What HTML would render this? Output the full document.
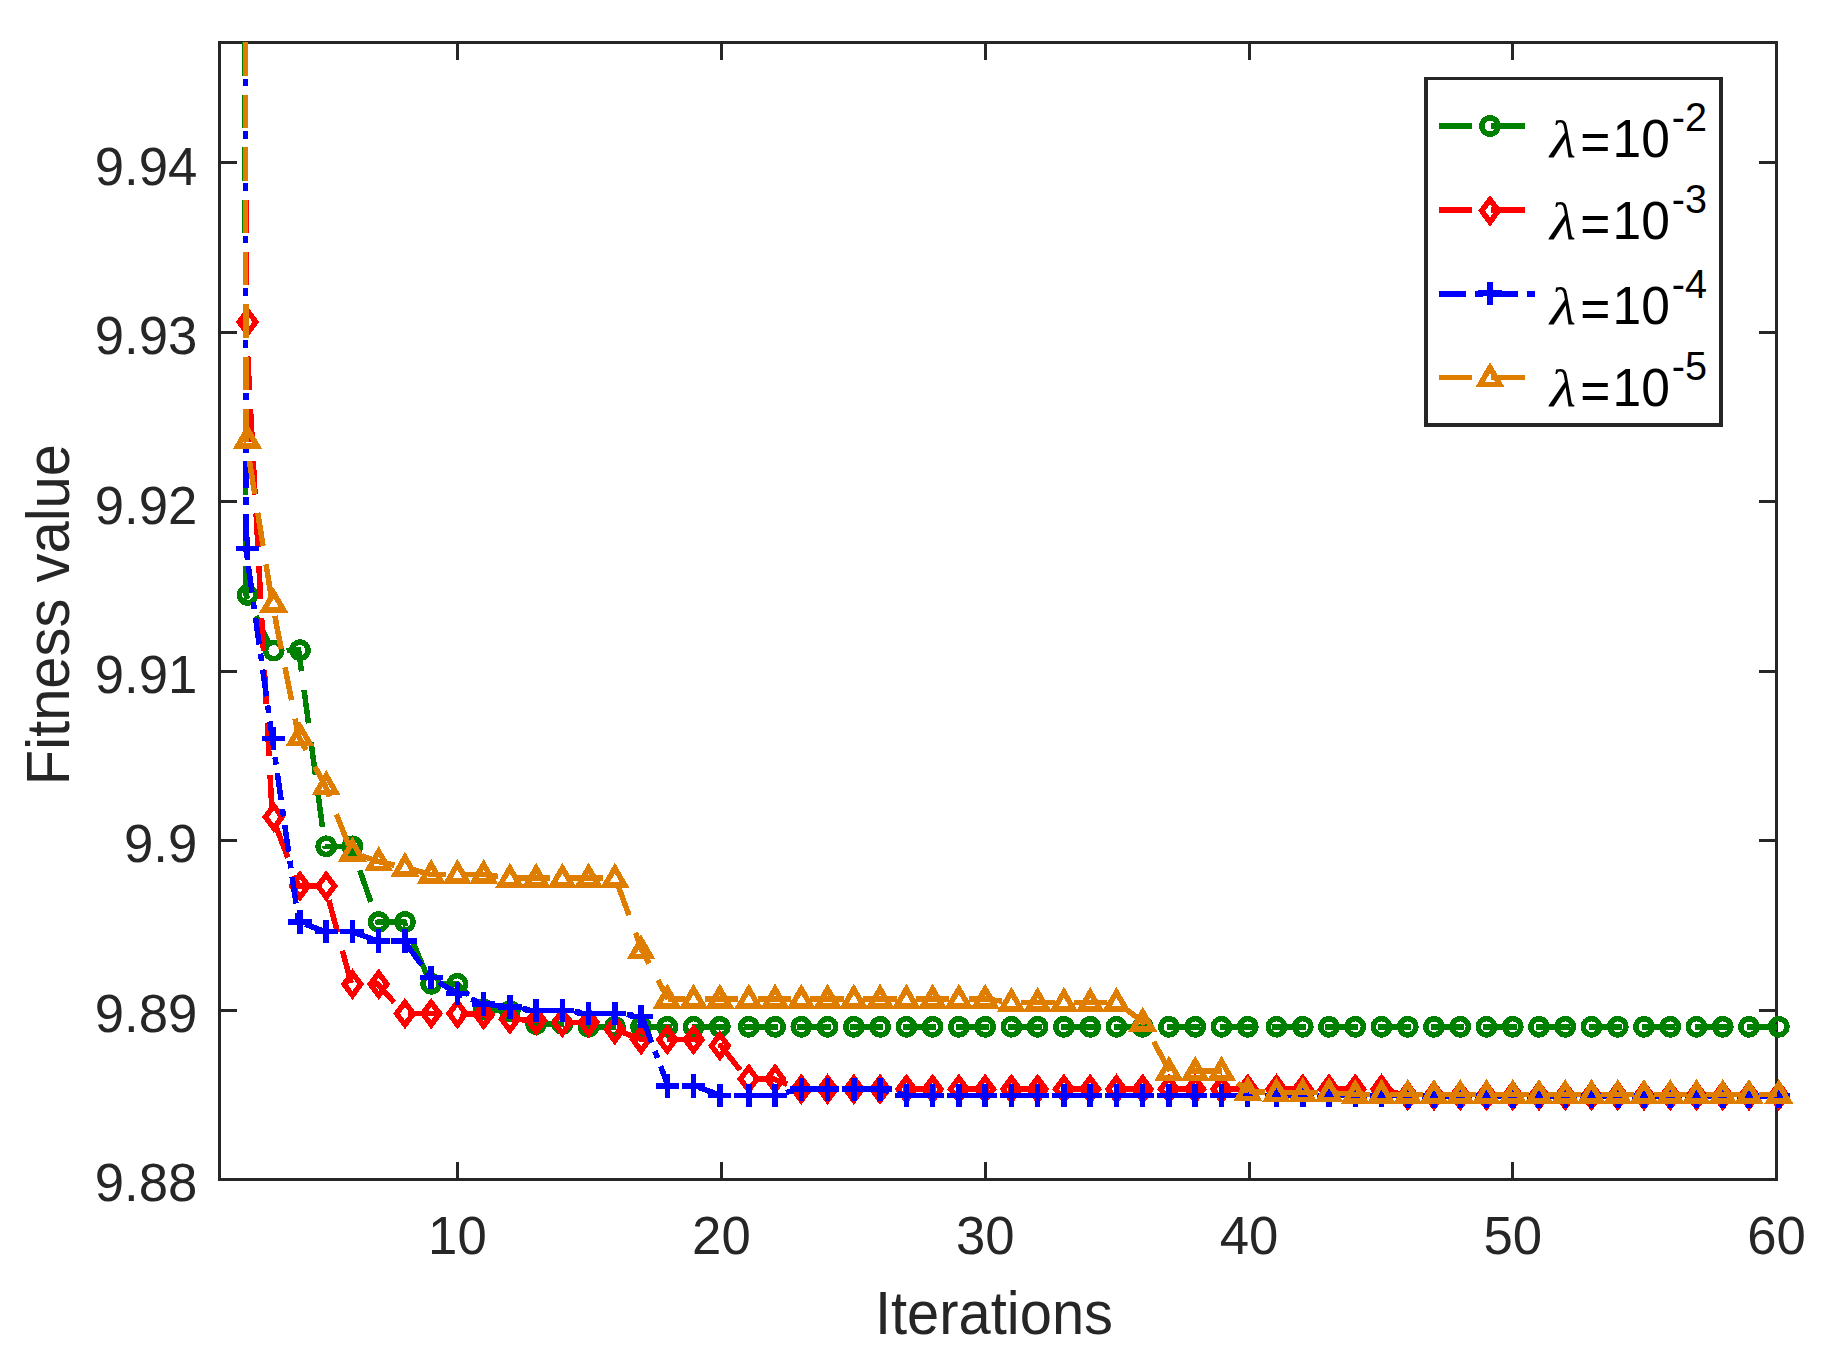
<!DOCTYPE html>
<html lang="en">
<head>
<meta charset="utf-8">
<title>Fitness value vs Iterations</title>
<style>
html,body{margin:0;padding:0;background:#fff;}
body{width:1825px;height:1363px;overflow:hidden;}
svg{display:block;}
text{font-family:"Liberation Sans",Arial,Helvetica,sans-serif;fill:#262626;}
.tk{font-size:52.7px;}
.lb{font-size:57.9px;}
.lg{font-size:51.5px;fill:#000;}
.lam{font-family:"Liberation Serif","DejaVu Serif",serif;font-style:italic;font-size:51.5px;}
.sup{font-size:39.6px;}
.ser *{fill:none;stroke-width:5.5;stroke-linejoin:miter;stroke-miterlimit:10;}
</style>
</head>
<body>
<svg width="1825" height="1363" viewBox="0 0 1825 1363">
<rect x="0" y="0" width="1825" height="1363" fill="#ffffff"/>

<g stroke="#262626" stroke-width="3.0" fill="none" shape-rendering="crispEdges">
<rect x="219.5" y="42.5" width="1557" height="1137"/>
<path d="M457.4 1179.5v-17.7M457.4 42.5v17.7M721.4 1179.5v-17.7M721.4 42.5v17.7M985.2 1179.5v-17.7M985.2 42.5v17.7M1249 1179.5v-17.7M1249 42.5v17.7M1512.8 1179.5v-17.7M1512.8 42.5v17.7M219.5 1010.08h17.7M1776.5 1010.08h-17.7M219.5 840.66h17.7M1776.5 840.66h-17.7M219.5 671.24h17.7M1776.5 671.24h-17.7M219.5 501.82h17.7M1776.5 501.82h-17.7M219.5 332.4h17.7M1776.5 332.4h-17.7M219.5 162.98h17.7M1776.5 162.98h-17.7"/>
</g>
<g class="tk">
<text transform="translate(457.4 1254.4) scale(1 1.03)" text-anchor="middle">10</text>
<text transform="translate(721.4 1254.4) scale(1 1.03)" text-anchor="middle">20</text>
<text transform="translate(985.2 1254.4) scale(1 1.03)" text-anchor="middle">30</text>
<text transform="translate(1249 1254.4) scale(1 1.03)" text-anchor="middle">40</text>
<text transform="translate(1512.8 1254.4) scale(1 1.03)" text-anchor="middle">50</text>
<text transform="translate(1776.6 1254.4) scale(1 1.03)" text-anchor="middle">60</text>
<text transform="translate(197.3 1201.2) scale(1 1.03)" text-anchor="end">9.88</text>
<text transform="translate(197.3 1031.78) scale(1 1.03)" text-anchor="end">9.89</text>
<text transform="translate(197.3 862.36) scale(1 1.03)" text-anchor="end">9.9</text>
<text transform="translate(197.3 692.94) scale(1 1.03)" text-anchor="end">9.91</text>
<text transform="translate(197.3 523.52) scale(1 1.03)" text-anchor="end">9.92</text>
<text transform="translate(197.3 354.1) scale(1 1.03)" text-anchor="end">9.93</text>
<text transform="translate(197.3 184.68) scale(1 1.03)" text-anchor="end">9.94</text>
</g>
<text class="lb" transform="translate(994 1333.7) scale(1 1.045)" text-anchor="middle">Iterations</text>
<text class="lb" transform="translate(69.3 614.6) rotate(-90) scale(1 1.045)" text-anchor="middle">Fitness value</text>
<g class="ser" shape-rendering="crispEdges">
<polyline points="244.9,42.5 245.89,595 272.28,650.5 298.67,650.2 325.06,846.3 351.45,846.3 377.84,922 404.23,922 430.62,983.8 457.01,983.8 483.4,1009.5 509.79,1011 536.18,1024 562.57,1024 588.96,1026.8 615.35,1026.8 641.74,1026.8 668.13,1026.8" stroke="#008000" stroke-dasharray="33.5 18.85"/>
<polyline points="668.13,1026.8 694.52,1026.8 720.91,1026.8 747.3,1026.8 773.69,1026.8 800.08,1026.8 826.47,1026.8 852.86,1026.8 879.25,1026.8 905.64,1026.8 932.03,1026.8 958.42,1026.8 984.81,1026.8 1011.19,1026.8 1037.58,1026.8 1063.97,1026.8 1090.36,1026.8 1116.75,1026.8 1143.14,1026.8 1169.53,1026.8 1195.92,1026.8 1222.31,1026.8 1248.7,1026.8 1275.09,1026.8 1301.48,1026.8 1327.87,1026.8 1354.26,1026.8 1380.65,1026.8 1407.04,1026.8 1433.43,1026.8 1459.82,1026.8 1486.21,1026.8 1512.6,1026.8 1538.99,1026.8 1565.38,1026.8 1591.77,1026.8 1618.16,1026.8 1644.55,1026.8 1670.94,1026.8 1697.33,1026.8 1723.72,1026.8 1750.11,1026.8 1776.5,1026.8" stroke="#008000" stroke-dasharray="33.4 19.38" stroke-dashoffset="29.2"/>
<circle cx="247.5" cy="595" r="8.1" stroke="#008000"/>
<circle cx="273.74" cy="650.5" r="8.1" stroke="#008000"/>
<circle cx="299.98" cy="650.2" r="8.1" stroke="#008000"/>
<circle cx="326.22" cy="846.3" r="8.1" stroke="#008000"/>
<circle cx="352.46" cy="846.3" r="8.1" stroke="#008000"/>
<circle cx="378.7" cy="922" r="8.1" stroke="#008000"/>
<circle cx="404.94" cy="922" r="8.1" stroke="#008000"/>
<circle cx="431.18" cy="983.8" r="8.1" stroke="#008000"/>
<circle cx="457.42" cy="983.8" r="8.1" stroke="#008000"/>
<circle cx="483.66" cy="1009.5" r="8.1" stroke="#008000"/>
<circle cx="509.9" cy="1011" r="8.1" stroke="#008000"/>
<circle cx="536.14" cy="1024" r="8.1" stroke="#008000"/>
<circle cx="562.38" cy="1024" r="8.1" stroke="#008000"/>
<circle cx="588.62" cy="1026.8" r="8.1" stroke="#008000"/>
<circle cx="614.86" cy="1026.8" r="8.1" stroke="#008000"/>
<circle cx="641.1" cy="1026.8" r="8.1" stroke="#008000"/>
<circle cx="667.34" cy="1026.8" r="8.1" stroke="#008000"/>
<circle cx="693.58" cy="1026.8" r="8.1" stroke="#008000"/>
<circle cx="719.82" cy="1026.8" r="8.1" stroke="#008000"/>
<circle cx="748.8" cy="1026.8" r="8.1" stroke="#008000"/>
<circle cx="775.06" cy="1026.8" r="8.1" stroke="#008000"/>
<circle cx="801.32" cy="1026.8" r="8.1" stroke="#008000"/>
<circle cx="827.58" cy="1026.8" r="8.1" stroke="#008000"/>
<circle cx="853.84" cy="1026.8" r="8.1" stroke="#008000"/>
<circle cx="880.1" cy="1026.8" r="8.1" stroke="#008000"/>
<circle cx="906.36" cy="1026.8" r="8.1" stroke="#008000"/>
<circle cx="932.62" cy="1026.8" r="8.1" stroke="#008000"/>
<circle cx="958.88" cy="1026.8" r="8.1" stroke="#008000"/>
<circle cx="985.14" cy="1026.8" r="8.1" stroke="#008000"/>
<circle cx="1011.4" cy="1026.8" r="8.1" stroke="#008000"/>
<circle cx="1037.66" cy="1026.8" r="8.1" stroke="#008000"/>
<circle cx="1063.92" cy="1026.8" r="8.1" stroke="#008000"/>
<circle cx="1090.18" cy="1026.8" r="8.1" stroke="#008000"/>
<circle cx="1116.44" cy="1026.8" r="8.1" stroke="#008000"/>
<circle cx="1142.7" cy="1026.8" r="8.1" stroke="#008000"/>
<circle cx="1168.96" cy="1026.8" r="8.1" stroke="#008000"/>
<circle cx="1195.22" cy="1026.8" r="8.1" stroke="#008000"/>
<circle cx="1221.48" cy="1026.8" r="8.1" stroke="#008000"/>
<circle cx="1247.74" cy="1026.8" r="8.1" stroke="#008000"/>
<circle cx="1276.5" cy="1026.8" r="8.1" stroke="#008000"/>
<circle cx="1302.75" cy="1026.8" r="8.1" stroke="#008000"/>
<circle cx="1329" cy="1026.8" r="8.1" stroke="#008000"/>
<circle cx="1355.25" cy="1026.8" r="8.1" stroke="#008000"/>
<circle cx="1381.5" cy="1026.8" r="8.1" stroke="#008000"/>
<circle cx="1407.75" cy="1026.8" r="8.1" stroke="#008000"/>
<circle cx="1434" cy="1026.8" r="8.1" stroke="#008000"/>
<circle cx="1460.25" cy="1026.8" r="8.1" stroke="#008000"/>
<circle cx="1486.5" cy="1026.8" r="8.1" stroke="#008000"/>
<circle cx="1512.75" cy="1026.8" r="8.1" stroke="#008000"/>
<circle cx="1539" cy="1026.8" r="8.1" stroke="#008000"/>
<circle cx="1565.25" cy="1026.8" r="8.1" stroke="#008000"/>
<circle cx="1591.5" cy="1026.8" r="8.1" stroke="#008000"/>
<circle cx="1617.75" cy="1026.8" r="8.1" stroke="#008000"/>
<circle cx="1644" cy="1026.8" r="8.1" stroke="#008000"/>
<circle cx="1670.25" cy="1026.8" r="8.1" stroke="#008000"/>
<circle cx="1696.5" cy="1026.8" r="8.1" stroke="#008000"/>
<circle cx="1722.75" cy="1026.8" r="8.1" stroke="#008000"/>
<circle cx="1749" cy="1026.8" r="8.1" stroke="#008000"/>
<circle cx="1778.8" cy="1026.8" r="8.1" stroke="#008000"/>
<polyline points="245.6,42.5 245.89,322 272.28,817 298.67,886 325.06,886 351.45,984.2 377.84,984.2 404.23,1013.6 430.62,1013.6 457.01,1013.6 483.4,1014.6 509.79,1019.2 536.18,1020.4 562.57,1022.4 588.96,1022.4 615.35,1029.6 641.74,1039.6 668.13,1039.6 694.52,1039.6 720.91,1045.8 747.3,1079 773.69,1079 800.08,1089.2" stroke="#ff0000" stroke-dasharray="33.5 18.85"/>
<polyline points="800.08,1089.2 826.47,1089.2 852.86,1089.2 879.25,1089.2 905.64,1089.2 932.03,1089.2 958.42,1089.2 984.81,1089.2 1011.19,1089.2 1037.58,1089.2 1063.97,1089.2 1090.36,1089.2 1116.75,1089.2 1143.14,1089.2 1169.53,1089.2 1195.92,1089.2 1222.31,1089.2 1248.7,1089.2 1275.09,1089.2 1301.48,1089.2 1327.87,1089.2 1354.26,1089.2 1380.65,1089.2 1407.04,1095.6 1433.43,1095.6 1459.82,1095.6 1486.21,1095.6 1512.6,1095.6 1538.99,1095.6 1565.38,1095.6 1591.77,1095.6 1618.16,1095.6 1644.55,1095.6 1670.94,1095.6 1697.33,1095.6 1723.72,1095.6 1750.11,1095.6 1776.5,1095.6" stroke="#ff0000" stroke-dasharray="33.4 19.38" stroke-dashoffset="2.8"/>
<path d="M247.5 310.8L255.8 322L247.5 333.2L239.2 322Z" stroke="#ff0000"/>
<path d="M273.74 805.8L282.04 817L273.74 828.2L265.44 817Z" stroke="#ff0000"/>
<path d="M299.98 874.8L308.28 886L299.98 897.2L291.68 886Z" stroke="#ff0000"/>
<path d="M326.22 874.8L334.52 886L326.22 897.2L317.92 886Z" stroke="#ff0000"/>
<path d="M352.46 973L360.76 984.2L352.46 995.4L344.16 984.2Z" stroke="#ff0000"/>
<path d="M378.7 973L387 984.2L378.7 995.4L370.4 984.2Z" stroke="#ff0000"/>
<path d="M404.94 1002.4L413.24 1013.6L404.94 1024.8L396.64 1013.6Z" stroke="#ff0000"/>
<path d="M431.18 1002.4L439.48 1013.6L431.18 1024.8L422.88 1013.6Z" stroke="#ff0000"/>
<path d="M457.42 1002.4L465.72 1013.6L457.42 1024.8L449.12 1013.6Z" stroke="#ff0000"/>
<path d="M483.66 1003.4L491.96 1014.6L483.66 1025.8L475.36 1014.6Z" stroke="#ff0000"/>
<path d="M509.9 1008L518.2 1019.2L509.9 1030.4L501.6 1019.2Z" stroke="#ff0000"/>
<path d="M536.14 1009.2L544.44 1020.4L536.14 1031.6L527.84 1020.4Z" stroke="#ff0000"/>
<path d="M562.38 1011.2L570.68 1022.4L562.38 1033.6L554.08 1022.4Z" stroke="#ff0000"/>
<path d="M588.62 1011.2L596.92 1022.4L588.62 1033.6L580.32 1022.4Z" stroke="#ff0000"/>
<path d="M614.86 1018.4L623.16 1029.6L614.86 1040.8L606.56 1029.6Z" stroke="#ff0000"/>
<path d="M641.1 1028.4L649.4 1039.6L641.1 1050.8L632.8 1039.6Z" stroke="#ff0000"/>
<path d="M667.34 1028.4L675.64 1039.6L667.34 1050.8L659.04 1039.6Z" stroke="#ff0000"/>
<path d="M693.58 1028.4L701.88 1039.6L693.58 1050.8L685.28 1039.6Z" stroke="#ff0000"/>
<path d="M719.82 1034.6L728.12 1045.8L719.82 1057L711.52 1045.8Z" stroke="#ff0000"/>
<path d="M748.8 1067.8L757.1 1079L748.8 1090.2L740.5 1079Z" stroke="#ff0000"/>
<path d="M775.06 1067.8L783.36 1079L775.06 1090.2L766.76 1079Z" stroke="#ff0000"/>
<path d="M801.32 1078L809.62 1089.2L801.32 1100.4L793.02 1089.2Z" stroke="#ff0000"/>
<path d="M827.58 1078L835.88 1089.2L827.58 1100.4L819.28 1089.2Z" stroke="#ff0000"/>
<path d="M853.84 1078L862.14 1089.2L853.84 1100.4L845.54 1089.2Z" stroke="#ff0000"/>
<path d="M880.1 1078L888.4 1089.2L880.1 1100.4L871.8 1089.2Z" stroke="#ff0000"/>
<path d="M906.36 1078L914.66 1089.2L906.36 1100.4L898.06 1089.2Z" stroke="#ff0000"/>
<path d="M932.62 1078L940.92 1089.2L932.62 1100.4L924.32 1089.2Z" stroke="#ff0000"/>
<path d="M958.88 1078L967.18 1089.2L958.88 1100.4L950.58 1089.2Z" stroke="#ff0000"/>
<path d="M985.14 1078L993.44 1089.2L985.14 1100.4L976.84 1089.2Z" stroke="#ff0000"/>
<path d="M1011.4 1078L1019.7 1089.2L1011.4 1100.4L1003.1 1089.2Z" stroke="#ff0000"/>
<path d="M1037.66 1078L1045.96 1089.2L1037.66 1100.4L1029.36 1089.2Z" stroke="#ff0000"/>
<path d="M1063.92 1078L1072.22 1089.2L1063.92 1100.4L1055.62 1089.2Z" stroke="#ff0000"/>
<path d="M1090.18 1078L1098.48 1089.2L1090.18 1100.4L1081.88 1089.2Z" stroke="#ff0000"/>
<path d="M1116.44 1078L1124.74 1089.2L1116.44 1100.4L1108.14 1089.2Z" stroke="#ff0000"/>
<path d="M1142.7 1078L1151 1089.2L1142.7 1100.4L1134.4 1089.2Z" stroke="#ff0000"/>
<path d="M1168.96 1078L1177.26 1089.2L1168.96 1100.4L1160.66 1089.2Z" stroke="#ff0000"/>
<path d="M1195.22 1078L1203.52 1089.2L1195.22 1100.4L1186.92 1089.2Z" stroke="#ff0000"/>
<path d="M1221.48 1078L1229.78 1089.2L1221.48 1100.4L1213.18 1089.2Z" stroke="#ff0000"/>
<path d="M1247.74 1078L1256.04 1089.2L1247.74 1100.4L1239.44 1089.2Z" stroke="#ff0000"/>
<path d="M1276.5 1078L1284.8 1089.2L1276.5 1100.4L1268.2 1089.2Z" stroke="#ff0000"/>
<path d="M1302.75 1078L1311.05 1089.2L1302.75 1100.4L1294.45 1089.2Z" stroke="#ff0000"/>
<path d="M1329 1078L1337.3 1089.2L1329 1100.4L1320.7 1089.2Z" stroke="#ff0000"/>
<path d="M1355.25 1078L1363.55 1089.2L1355.25 1100.4L1346.95 1089.2Z" stroke="#ff0000"/>
<path d="M1381.5 1078L1389.8 1089.2L1381.5 1100.4L1373.2 1089.2Z" stroke="#ff0000"/>
<path d="M1407.75 1084.4L1416.05 1095.6L1407.75 1106.8L1399.45 1095.6Z" stroke="#ff0000"/>
<path d="M1434 1084.4L1442.3 1095.6L1434 1106.8L1425.7 1095.6Z" stroke="#ff0000"/>
<path d="M1460.25 1084.4L1468.55 1095.6L1460.25 1106.8L1451.95 1095.6Z" stroke="#ff0000"/>
<path d="M1486.5 1084.4L1494.8 1095.6L1486.5 1106.8L1478.2 1095.6Z" stroke="#ff0000"/>
<path d="M1512.75 1084.4L1521.05 1095.6L1512.75 1106.8L1504.45 1095.6Z" stroke="#ff0000"/>
<path d="M1539 1084.4L1547.3 1095.6L1539 1106.8L1530.7 1095.6Z" stroke="#ff0000"/>
<path d="M1565.25 1084.4L1573.55 1095.6L1565.25 1106.8L1556.95 1095.6Z" stroke="#ff0000"/>
<path d="M1591.5 1084.4L1599.8 1095.6L1591.5 1106.8L1583.2 1095.6Z" stroke="#ff0000"/>
<path d="M1617.75 1084.4L1626.05 1095.6L1617.75 1106.8L1609.45 1095.6Z" stroke="#ff0000"/>
<path d="M1644 1084.4L1652.3 1095.6L1644 1106.8L1635.7 1095.6Z" stroke="#ff0000"/>
<path d="M1670.25 1084.4L1678.55 1095.6L1670.25 1106.8L1661.95 1095.6Z" stroke="#ff0000"/>
<path d="M1696.5 1084.4L1704.8 1095.6L1696.5 1106.8L1688.2 1095.6Z" stroke="#ff0000"/>
<path d="M1722.75 1084.4L1731.05 1095.6L1722.75 1106.8L1714.45 1095.6Z" stroke="#ff0000"/>
<path d="M1749 1084.4L1757.3 1095.6L1749 1106.8L1740.7 1095.6Z" stroke="#ff0000"/>
<path d="M1778.8 1084.4L1787.1 1095.6L1778.8 1106.8L1770.5 1095.6Z" stroke="#ff0000"/>
<polyline points="245.5,42.5 245.89,548.6 272.28,738.3 298.67,922 325.06,931.5 351.45,931.5 377.84,941 404.23,941 430.62,977.5 457.01,993.4 483.4,1003.9 509.79,1007 536.18,1010.4 562.57,1010.4 588.96,1013.3 615.35,1013.3 641.74,1016.3 668.13,1086 694.52,1086 720.91,1095.4 747.3,1095.4 773.69,1095.4 800.08,1089.2" stroke="#0000ff" stroke-dasharray="27 9.2 7.5 8.65"/>
<polyline points="800.08,1089.2 826.47,1089.2 852.86,1089.2 879.25,1089.2 905.64,1095.3 932.03,1095.3 958.42,1095.3 984.81,1095.3 1011.19,1095.3 1037.58,1095.3 1063.97,1095.3 1090.36,1095.3 1116.75,1095.3 1143.14,1095.3 1169.53,1095.3 1195.92,1095.3 1222.31,1095.3 1248.7,1095.3 1275.09,1095.3 1301.48,1095.3 1327.87,1095.3 1354.26,1095.3 1380.65,1095.3 1407.04,1096 1433.43,1096 1459.82,1096 1486.21,1096 1512.6,1096 1538.99,1096 1565.38,1096 1591.77,1096 1618.16,1096 1644.55,1096 1670.94,1096 1697.33,1096 1723.72,1096 1750.11,1096 1776.5,1096" stroke="#0000ff" stroke-dasharray="27 9.4 7.5 8.88" stroke-dashoffset="43.6"/>
<path d="M235.9 548.6H259.1M247.5 537V560.2" stroke="#0000ff"/>
<path d="M262.14 738.3H285.34M273.74 726.7V749.9" stroke="#0000ff"/>
<path d="M288.38 922H311.58M299.98 910.4V933.6" stroke="#0000ff"/>
<path d="M314.62 931.5H337.82M326.22 919.9V943.1" stroke="#0000ff"/>
<path d="M340.86 931.5H364.06M352.46 919.9V943.1" stroke="#0000ff"/>
<path d="M367.1 941H390.3M378.7 929.4V952.6" stroke="#0000ff"/>
<path d="M393.34 941H416.54M404.94 929.4V952.6" stroke="#0000ff"/>
<path d="M419.58 977.5H442.78M431.18 965.9V989.1" stroke="#0000ff"/>
<path d="M445.82 993.4H469.02M457.42 981.8V1005" stroke="#0000ff"/>
<path d="M472.06 1003.9H495.26M483.66 992.3V1015.5" stroke="#0000ff"/>
<path d="M498.3 1007H521.5M509.9 995.4V1018.6" stroke="#0000ff"/>
<path d="M524.54 1010.4H547.74M536.14 998.8V1022" stroke="#0000ff"/>
<path d="M550.78 1010.4H573.98M562.38 998.8V1022" stroke="#0000ff"/>
<path d="M577.02 1013.3H600.22M588.62 1001.7V1024.9" stroke="#0000ff"/>
<path d="M603.26 1013.3H626.46M614.86 1001.7V1024.9" stroke="#0000ff"/>
<path d="M629.5 1016.3H652.7M641.1 1004.7V1027.9" stroke="#0000ff"/>
<path d="M655.74 1086H678.94M667.34 1074.4V1097.6" stroke="#0000ff"/>
<path d="M681.98 1086H705.18M693.58 1074.4V1097.6" stroke="#0000ff"/>
<path d="M708.22 1095.4H731.42M719.82 1083.8V1107" stroke="#0000ff"/>
<path d="M737.2 1095.4H760.4M748.8 1083.8V1107" stroke="#0000ff"/>
<path d="M763.46 1095.4H786.66M775.06 1083.8V1107" stroke="#0000ff"/>
<path d="M789.72 1089.2H812.92M801.32 1077.6V1100.8" stroke="#0000ff"/>
<path d="M815.98 1089.2H839.18M827.58 1077.6V1100.8" stroke="#0000ff"/>
<path d="M842.24 1089.2H865.44M853.84 1077.6V1100.8" stroke="#0000ff"/>
<path d="M868.5 1089.2H891.7M880.1 1077.6V1100.8" stroke="#0000ff"/>
<path d="M894.76 1095.3H917.96M906.36 1083.7V1106.9" stroke="#0000ff"/>
<path d="M921.02 1095.3H944.22M932.62 1083.7V1106.9" stroke="#0000ff"/>
<path d="M947.28 1095.3H970.48M958.88 1083.7V1106.9" stroke="#0000ff"/>
<path d="M973.54 1095.3H996.74M985.14 1083.7V1106.9" stroke="#0000ff"/>
<path d="M999.8 1095.3H1023M1011.4 1083.7V1106.9" stroke="#0000ff"/>
<path d="M1026.06 1095.3H1049.26M1037.66 1083.7V1106.9" stroke="#0000ff"/>
<path d="M1052.32 1095.3H1075.52M1063.92 1083.7V1106.9" stroke="#0000ff"/>
<path d="M1078.58 1095.3H1101.78M1090.18 1083.7V1106.9" stroke="#0000ff"/>
<path d="M1104.84 1095.3H1128.04M1116.44 1083.7V1106.9" stroke="#0000ff"/>
<path d="M1131.1 1095.3H1154.3M1142.7 1083.7V1106.9" stroke="#0000ff"/>
<path d="M1157.36 1095.3H1180.56M1168.96 1083.7V1106.9" stroke="#0000ff"/>
<path d="M1183.62 1095.3H1206.82M1195.22 1083.7V1106.9" stroke="#0000ff"/>
<path d="M1209.88 1095.3H1233.08M1221.48 1083.7V1106.9" stroke="#0000ff"/>
<path d="M1236.14 1095.3H1259.34M1247.74 1083.7V1106.9" stroke="#0000ff"/>
<path d="M1264.9 1095.3H1288.1M1276.5 1083.7V1106.9" stroke="#0000ff"/>
<path d="M1291.15 1095.3H1314.35M1302.75 1083.7V1106.9" stroke="#0000ff"/>
<path d="M1317.4 1095.3H1340.6M1329 1083.7V1106.9" stroke="#0000ff"/>
<path d="M1343.65 1095.3H1366.85M1355.25 1083.7V1106.9" stroke="#0000ff"/>
<path d="M1369.9 1095.3H1393.1M1381.5 1083.7V1106.9" stroke="#0000ff"/>
<path d="M1396.15 1096H1419.35M1407.75 1084.4V1107.6" stroke="#0000ff"/>
<path d="M1422.4 1096H1445.6M1434 1084.4V1107.6" stroke="#0000ff"/>
<path d="M1448.65 1096H1471.85M1460.25 1084.4V1107.6" stroke="#0000ff"/>
<path d="M1474.9 1096H1498.1M1486.5 1084.4V1107.6" stroke="#0000ff"/>
<path d="M1501.15 1096H1524.35M1512.75 1084.4V1107.6" stroke="#0000ff"/>
<path d="M1527.4 1096H1550.6M1539 1084.4V1107.6" stroke="#0000ff"/>
<path d="M1553.65 1096H1576.85M1565.25 1084.4V1107.6" stroke="#0000ff"/>
<path d="M1579.9 1096H1603.1M1591.5 1084.4V1107.6" stroke="#0000ff"/>
<path d="M1606.15 1096H1629.35M1617.75 1084.4V1107.6" stroke="#0000ff"/>
<path d="M1632.4 1096H1655.6M1644 1084.4V1107.6" stroke="#0000ff"/>
<path d="M1658.65 1096H1681.85M1670.25 1084.4V1107.6" stroke="#0000ff"/>
<path d="M1684.9 1096H1708.1M1696.5 1084.4V1107.6" stroke="#0000ff"/>
<path d="M1711.15 1096H1734.35M1722.75 1084.4V1107.6" stroke="#0000ff"/>
<path d="M1737.4 1096H1760.6M1749 1084.4V1107.6" stroke="#0000ff"/>
<path d="M1767.2 1096H1790.4M1778.8 1084.4V1107.6" stroke="#0000ff"/>
<polyline points="245.5,42.5 245.89,439.2 272.28,603.1 298.67,736.5 325.06,785.5 351.45,852.1 377.84,861.5 404.23,867.3 430.62,874.4 457.01,874.4 483.4,874.4 509.79,878.1 536.18,878.1 562.57,878.1 588.96,878.1 615.35,878.1 641.74,949.9 668.13,999" stroke="#de7d00" stroke-dasharray="33.5 18.85"/>
<polyline points="668.13,999 694.52,999 720.91,999 747.3,999 773.69,999 800.08,999 826.47,999 852.86,999 879.25,999 905.64,999 932.03,999 958.42,999 984.81,999 1011.19,1002.3 1037.58,1002.3 1063.97,1002.3 1090.36,1002.3 1116.75,1002.3 1143.14,1022.1" stroke="#de7d00" stroke-dasharray="33.4 19.38" stroke-dashoffset="16.1"/>
<polyline points="1143.14,1022.1 1169.53,1071.2 1195.92,1071.2 1222.31,1071.2 1248.7,1091.5" stroke="#de7d00" stroke-dasharray="33.4 19.38" stroke-dashoffset="30.5"/>
<polyline points="1248.7,1091.5 1275.09,1092.6 1301.48,1092.6 1327.87,1092.6 1354.26,1094.3 1380.65,1094.3 1407.04,1094.3 1433.43,1094.3 1459.82,1094.3 1486.21,1094.3 1512.6,1094.3 1538.99,1094.3 1565.38,1094.3 1591.77,1094.3 1618.16,1094.3 1644.55,1094.3 1670.94,1094.3 1697.33,1094.3 1723.72,1094.3 1750.11,1094.3 1776.5,1094.3" stroke="#de7d00" stroke-dasharray="33.4 19.38" stroke-dashoffset="17.3"/>
<path d="M247.5 429.14L257.25 446.03L237.75 446.03Z" stroke="#de7d00"/>
<path d="M273.74 593.04L283.49 609.93L263.99 609.93Z" stroke="#de7d00"/>
<path d="M299.98 726.44L309.73 743.33L290.23 743.33Z" stroke="#de7d00"/>
<path d="M326.22 775.44L335.97 792.33L316.47 792.33Z" stroke="#de7d00"/>
<path d="M352.46 842.04L362.21 858.93L342.71 858.93Z" stroke="#de7d00"/>
<path d="M378.7 851.44L388.45 868.33L368.95 868.33Z" stroke="#de7d00"/>
<path d="M404.94 857.24L414.69 874.13L395.19 874.13Z" stroke="#de7d00"/>
<path d="M431.18 864.34L440.93 881.23L421.43 881.23Z" stroke="#de7d00"/>
<path d="M457.42 864.34L467.17 881.23L447.67 881.23Z" stroke="#de7d00"/>
<path d="M483.66 864.34L493.41 881.23L473.91 881.23Z" stroke="#de7d00"/>
<path d="M509.9 868.04L519.65 884.93L500.15 884.93Z" stroke="#de7d00"/>
<path d="M536.14 868.04L545.89 884.93L526.39 884.93Z" stroke="#de7d00"/>
<path d="M562.38 868.04L572.13 884.93L552.63 884.93Z" stroke="#de7d00"/>
<path d="M588.62 868.04L598.37 884.93L578.87 884.93Z" stroke="#de7d00"/>
<path d="M614.86 868.04L624.61 884.93L605.11 884.93Z" stroke="#de7d00"/>
<path d="M641.1 939.84L650.85 956.73L631.35 956.73Z" stroke="#de7d00"/>
<path d="M667.34 988.94L677.09 1005.83L657.59 1005.83Z" stroke="#de7d00"/>
<path d="M693.58 988.94L703.33 1005.83L683.83 1005.83Z" stroke="#de7d00"/>
<path d="M719.82 988.94L729.57 1005.83L710.07 1005.83Z" stroke="#de7d00"/>
<path d="M748.8 988.94L758.55 1005.83L739.05 1005.83Z" stroke="#de7d00"/>
<path d="M775.06 988.94L784.81 1005.83L765.31 1005.83Z" stroke="#de7d00"/>
<path d="M801.32 988.94L811.07 1005.83L791.57 1005.83Z" stroke="#de7d00"/>
<path d="M827.58 988.94L837.33 1005.83L817.83 1005.83Z" stroke="#de7d00"/>
<path d="M853.84 988.94L863.59 1005.83L844.09 1005.83Z" stroke="#de7d00"/>
<path d="M880.1 988.94L889.85 1005.83L870.35 1005.83Z" stroke="#de7d00"/>
<path d="M906.36 988.94L916.11 1005.83L896.61 1005.83Z" stroke="#de7d00"/>
<path d="M932.62 988.94L942.37 1005.83L922.87 1005.83Z" stroke="#de7d00"/>
<path d="M958.88 988.94L968.63 1005.83L949.13 1005.83Z" stroke="#de7d00"/>
<path d="M985.14 988.94L994.89 1005.83L975.39 1005.83Z" stroke="#de7d00"/>
<path d="M1011.4 992.24L1021.15 1009.13L1001.65 1009.13Z" stroke="#de7d00"/>
<path d="M1037.66 992.24L1047.41 1009.13L1027.91 1009.13Z" stroke="#de7d00"/>
<path d="M1063.92 992.24L1073.67 1009.13L1054.17 1009.13Z" stroke="#de7d00"/>
<path d="M1090.18 992.24L1099.93 1009.13L1080.43 1009.13Z" stroke="#de7d00"/>
<path d="M1116.44 992.24L1126.19 1009.13L1106.69 1009.13Z" stroke="#de7d00"/>
<path d="M1142.7 1012.04L1152.45 1028.93L1132.95 1028.93Z" stroke="#de7d00"/>
<path d="M1168.96 1061.14L1178.71 1078.03L1159.21 1078.03Z" stroke="#de7d00"/>
<path d="M1195.22 1061.14L1204.97 1078.03L1185.47 1078.03Z" stroke="#de7d00"/>
<path d="M1221.48 1061.14L1231.23 1078.03L1211.73 1078.03Z" stroke="#de7d00"/>
<path d="M1247.74 1081.44L1257.49 1098.33L1237.99 1098.33Z" stroke="#de7d00"/>
<path d="M1276.5 1082.54L1286.25 1099.43L1266.75 1099.43Z" stroke="#de7d00"/>
<path d="M1302.75 1082.54L1312.5 1099.43L1293 1099.43Z" stroke="#de7d00"/>
<path d="M1329 1082.54L1338.75 1099.43L1319.25 1099.43Z" stroke="#de7d00"/>
<path d="M1355.25 1084.24L1365 1101.13L1345.5 1101.13Z" stroke="#de7d00"/>
<path d="M1381.5 1084.24L1391.25 1101.13L1371.75 1101.13Z" stroke="#de7d00"/>
<path d="M1407.75 1084.24L1417.5 1101.13L1398 1101.13Z" stroke="#de7d00"/>
<path d="M1434 1084.24L1443.75 1101.13L1424.25 1101.13Z" stroke="#de7d00"/>
<path d="M1460.25 1084.24L1470 1101.13L1450.5 1101.13Z" stroke="#de7d00"/>
<path d="M1486.5 1084.24L1496.25 1101.13L1476.75 1101.13Z" stroke="#de7d00"/>
<path d="M1512.75 1084.24L1522.5 1101.13L1503 1101.13Z" stroke="#de7d00"/>
<path d="M1539 1084.24L1548.75 1101.13L1529.25 1101.13Z" stroke="#de7d00"/>
<path d="M1565.25 1084.24L1575 1101.13L1555.5 1101.13Z" stroke="#de7d00"/>
<path d="M1591.5 1084.24L1601.25 1101.13L1581.75 1101.13Z" stroke="#de7d00"/>
<path d="M1617.75 1084.24L1627.5 1101.13L1608 1101.13Z" stroke="#de7d00"/>
<path d="M1644 1084.24L1653.75 1101.13L1634.25 1101.13Z" stroke="#de7d00"/>
<path d="M1670.25 1084.24L1680 1101.13L1660.5 1101.13Z" stroke="#de7d00"/>
<path d="M1696.5 1084.24L1706.25 1101.13L1686.75 1101.13Z" stroke="#de7d00"/>
<path d="M1722.75 1084.24L1732.5 1101.13L1713 1101.13Z" stroke="#de7d00"/>
<path d="M1749 1084.24L1758.75 1101.13L1739.25 1101.13Z" stroke="#de7d00"/>
<path d="M1778.8 1084.24L1788.55 1101.13L1769.05 1101.13Z" stroke="#de7d00"/>
</g>
<rect x="1426.0" y="78.6" width="294.8" height="346.5" fill="#fff" stroke="#262626" stroke-width="3.4" shape-rendering="crispEdges"/>
<g class="ser" shape-rendering="crispEdges">
<path d="M1438.8 126.0H1540.6" stroke="#008000" stroke-dasharray="33.5 18.85"/>
<circle cx="1490" cy="126" r="8.1" stroke="#008000"/>
<path d="M1438.8 209.9H1540.6" stroke="#ff0000" stroke-dasharray="33.5 18.85"/>
<path d="M1490 199.6L1498.3 210.8L1490 222L1481.7 210.8Z" stroke="#ff0000"/>
<path d="M1438.8 294.0H1540.6" stroke="#0000ff" stroke-dasharray="27 9.2 7.5 8.65"/>
<path d="M1478.4 293.2H1501.6M1490 281.6V304.8" stroke="#0000ff"/>
<path d="M1438.8 377.5H1540.6" stroke="#de7d00" stroke-dasharray="33.5 18.85"/>
<path d="M1490 367.44L1499.75 384.33L1480.25 384.33Z" stroke="#de7d00"/>
</g>
<text class="lg" transform="translate(0 156.8) scale(1 1.04)"><tspan class="lam" x="1550" textLength="26" lengthAdjust="spacingAndGlyphs">λ</tspan><tspan x="1580.3" dy="3.4">=</tspan><tspan x="1612.6" dy="-3.4">10</tspan><tspan class="sup" x="1671.8" dy="-24.6">-2</tspan></text>
<text class="lg" transform="translate(0 238.8) scale(1 1.04)"><tspan class="lam" x="1550" textLength="26" lengthAdjust="spacingAndGlyphs">λ</tspan><tspan x="1580.3" dy="3.4">=</tspan><tspan x="1612.6" dy="-3.4">10</tspan><tspan class="sup" x="1671.8" dy="-24.6">-3</tspan></text>
<text class="lg" transform="translate(0 323.8) scale(1 1.04)"><tspan class="lam" x="1550" textLength="26" lengthAdjust="spacingAndGlyphs">λ</tspan><tspan x="1580.3" dy="3.4">=</tspan><tspan x="1612.6" dy="-3.4">10</tspan><tspan class="sup" x="1671.8" dy="-24.6">-4</tspan></text>
<text class="lg" transform="translate(0 405.8) scale(1 1.04)"><tspan class="lam" x="1550" textLength="26" lengthAdjust="spacingAndGlyphs">λ</tspan><tspan x="1580.3" dy="3.4">=</tspan><tspan x="1612.6" dy="-3.4">10</tspan><tspan class="sup" x="1671.8" dy="-24.6">-5</tspan></text>
</svg>
</body>
</html>
